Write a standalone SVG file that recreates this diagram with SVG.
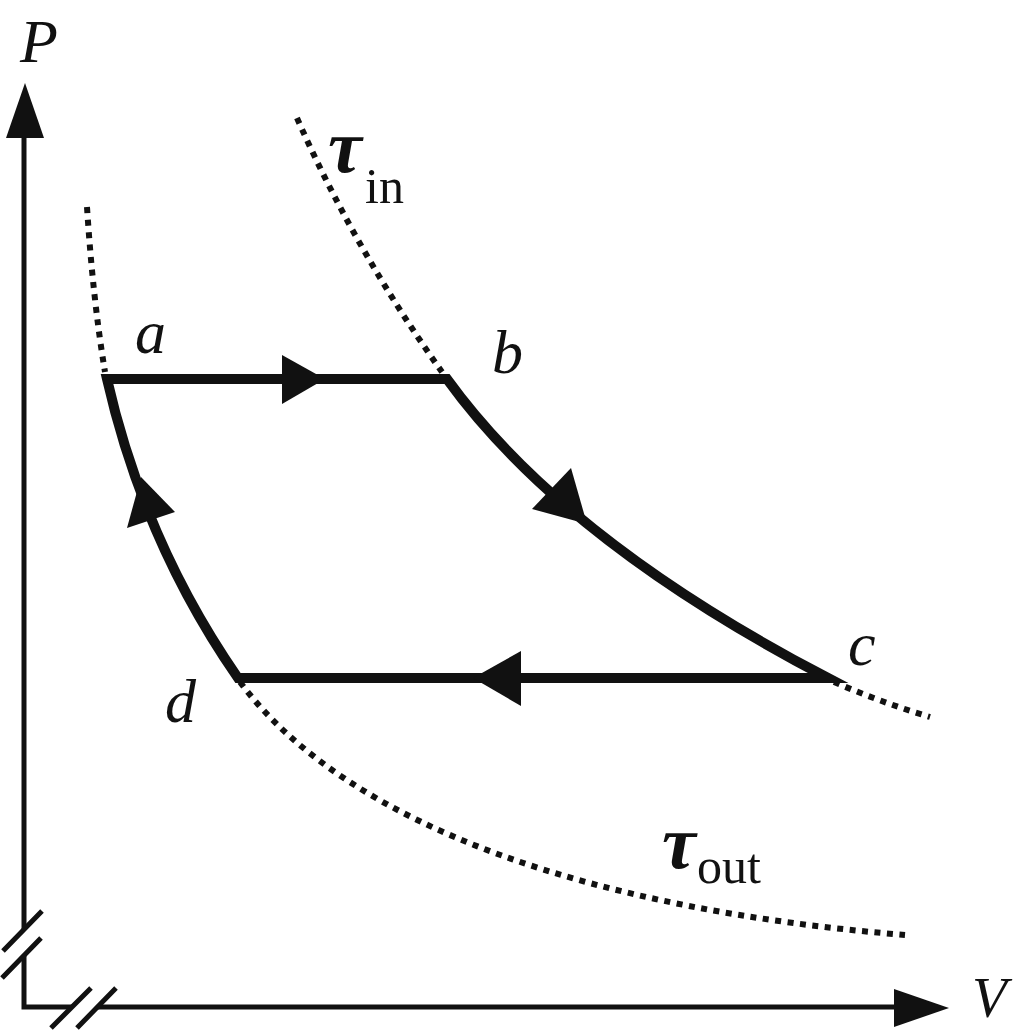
<svg xmlns="http://www.w3.org/2000/svg" width="1022" height="1031" viewBox="0 0 1022 1031">
<style>
.ax{stroke:#111;stroke-width:5;fill:none}
.cyc{stroke:#111;stroke-width:10;fill:none;stroke-linejoin:miter;stroke-miterlimit:20}
.dot{stroke:#111;stroke-width:6;fill:none;stroke-dasharray:6 6.5}
.head{fill:#111;stroke:none}
.lbl{font-family:"Liberation Serif","Times New Roman",serif;font-style:italic;font-size:62px;fill:#111}
.tau{font-family:"Liberation Serif","Times New Roman",serif;font-style:italic;font-weight:bold;font-size:76px;fill:#111}
.sub{font-family:"Liberation Serif","Times New Roman",serif;font-size:50px;fill:#111}
</style>
<rect width="1022" height="1031" fill="#fff"/>
<g id="axes">
<path class="ax" d="M24,130 L24,929 M24,956 L24,1007 L72,1007 M97,1007 L895,1007"/>
<path class="ax" d="M3,951 L42,911 M2,978 L41,938 M51,1028 L91,988 M77,1028 L116,988"/>
<polygon class="head" points="25,83 44,138 6,138"/>
<polygon class="head" points="949,1008 894,989 894,1027"/>
<text class="lbl" x="20" y="62">P</text>
<text class="lbl" x="972" y="1017" style="font-size:57px">V</text>
</g>
<g id="isotherms">
<path class="dot" d="M87,207 Q93,300 105,372"/>
<path class="dot" d="M240,682 C350,830 600,910 905,935"/>
<path class="dot" d="M297,118 Q355,250 442,372"/>
<path class="dot" d="M834,682 Q880,702 930,717"/>
</g>
<g id="connectors">
<path class="cyc" d="M107,379 L447,379 C520,480 640,580 828,678 L238,678 C170,580 130,480 107,379 Z"/>
<polygon class="head" points="325,379 282,355 282,404"/>
<polygon class="head" points="587,524 532,509 571,468"/>
<polygon class="head" points="473,678 521,651 521,706"/>
<polygon class="head" points="141,477 127,528 175,512"/>
</g>
<g id="node-a"><text class="lbl" x="135" y="353">a</text></g>
<g id="node-b"><text class="lbl" x="492" y="373">b</text></g>
<g id="node-c"><text class="lbl" x="848" y="665">c</text></g>
<g id="node-d"><text class="lbl" x="165" y="722">d</text></g>
<g id="label-tin"><text class="tau" x="328" y="172">τ</text><text class="sub" x="365" y="203">in</text></g>
<g id="label-tout"><text class="tau" x="662" y="868">τ</text><text class="sub" x="697" y="883">out</text></g>
</svg>
